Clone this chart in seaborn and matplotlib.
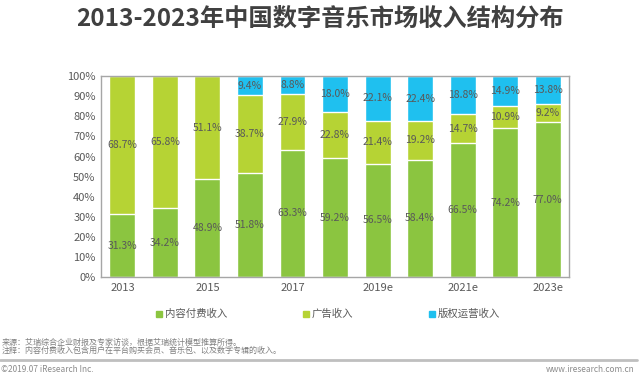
import matplotlib
matplotlib.use('Agg')
import matplotlib.pyplot as plt
import numpy as np
import pandas as pd
import seaborn as sns
from matplotlib.lines import Line2D
from matplotlib.ticker import PercentFormatter

years = ['2013', '2014', '2015', '2016', '2017', '2018',
         '2019e', '2020e', '2021e', '2022e', '2023e']
content_pay = [31.3, 34.2, 48.9, 51.8, 63.3, 59.2, 56.5, 58.4, 66.5, 74.2, 77.0]
advertising = [68.7, 65.8, 51.1, 38.7, 27.9, 22.8, 21.4, 19.2, 14.7, 10.9, 9.2]
copyright_ops = [0.0, 0.0, 0.0, 9.4, 8.8, 18.0, 22.1, 22.4, 18.8, 14.9, 13.8]
series_names = ['内容付费收入', '广告收入', '版权运营收入']
tick_years = ['2013', '2015', '2017', '2019e', '2021e', '2023e']

colors = ['#8BC540', '#B6D334', '#1FC0EF']
text_gray = '#595959'

sns.set_style('white')
plt.rcParams['font.family'] = ['Noto Sans CJK SC', 'DejaVu Sans']

df = pd.DataFrame({'year': years,
                   'content': content_pay,
                   'ad': advertising,
                   'copyright': copyright_ops})
df['c1'] = df['content']
df['c2'] = df['content'] + df['ad']
df['c3'] = df['c2'] + df['copyright']

fig = plt.figure(figsize=(6.4, 3.79), dpi=100)
ax = fig.add_axes([0.158, 0.269, 0.731, 0.530])

# stacked bars drawn as cumulative layers, tallest first
for col, color in zip(['c3', 'c2', 'c1'], colors[::-1]):
    sns.barplot(ax=ax, data=df, x='year', y=col, color=color,
                width=0.61, saturation=1, order=years)

# segment labels
for i, row in df.iterrows():
    segs = [(0, row['content']), (row['c1'], row['ad']), (row['c2'], row['copyright'])]
    for base, val in segs:
        if val <= 0:
            continue
        ax.text(i, base + val / 2, f'{val:.1f}%', ha='center', va='center',
                fontsize=7.5, color=text_gray)

ax.set_ylim(0, 100)
ax.set_xlim(-0.5, len(years) - 0.5)
ax.set_yticks(np.arange(0, 101, 10))
ax.yaxis.set_major_formatter(PercentFormatter(decimals=0))
ax.set_xticks(range(len(years)))
ax.set_xticklabels([y if y in tick_years else '' for y in years])
ax.tick_params(axis='both', labelsize=8, colors=text_gray, length=0, pad=4)
ax.set_xlabel('')
ax.set_ylabel('')
for sp in ax.spines.values():
    sp.set_color('#A6A6A6')
    sp.set_linewidth(1)

handles = [Line2D([], [], marker='s', linestyle='', markersize=5,
                  markerfacecolor=c, markeredgecolor=c) for c in colors]
fig.legend(handles, series_names, loc='center', bbox_to_anchor=(0.511, 1 - 314 / 379),
           ncol=3, frameon=False, fontsize=7.5, columnspacing=7.0,
           handletextpad=0.1, handlelength=1.0, labelcolor=text_gray)

fig.text(0.5, 1 - 20 / 379, '2013-2023年中国数字音乐市场收入结构分布', ha='center', va='center',
         fontsize=17.5, fontweight='bold', color='#404040')

fig.text(0.002, 1 - 342 / 379, '来源：艾瑞综合企业财报及专家访谈，根据艾瑞统计模型推算所得。',
         ha='left', va='center', fontsize=5.8, color='#7F7F7F')
fig.text(0.002, 1 - 350.5 / 379, '注释：内容付费收入包含用户在平台购买会员、音乐包、以及数字专辑的收入。',
         ha='left', va='center', fontsize=5.8, color='#7F7F7F')
fig.add_artist(Line2D([0, 0.995], [1 - 359.5 / 379, 1 - 359.5 / 379], transform=fig.transFigure,
                      color='#BFBFBF', linewidth=2))
fig.text(0.002, 1 - 370 / 379, '©2019.07 iResearch Inc.', ha='left', va='center',
         fontsize=6, color='#8C8C8C')
fig.text(0.992, 1 - 370 / 379, 'www.iresearch.com.cn', ha='right', va='center',
         fontsize=6, color='#8C8C8C')

fig.savefig('out.png', dpi=100)
